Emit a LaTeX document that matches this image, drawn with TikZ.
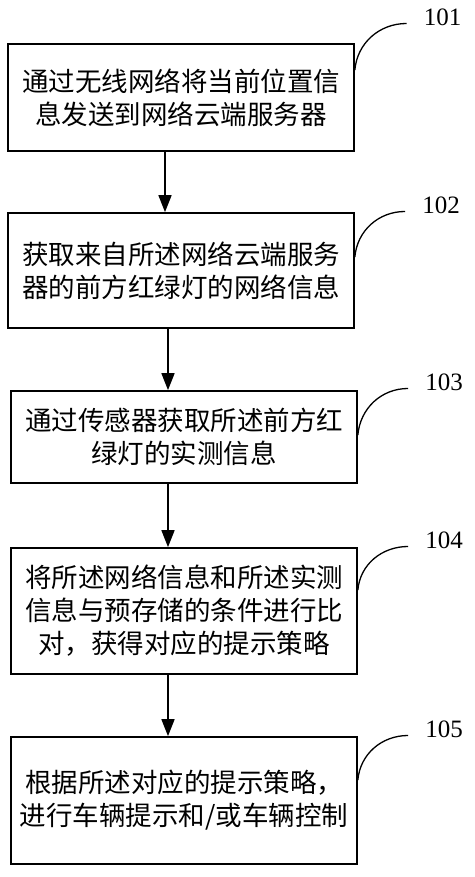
\documentclass[tikz,border=0pt]{standalone}
\usepackage{fontspec}
\newfontfamily\cjk{Noto Sans CJK SC}
\newfontfamily\numfont{Liberation Serif}
\usetikzlibrary{arrows.meta}
\begin{document}
\begin{tikzpicture}[x=1pt,y=1pt,
  stepbox/.style={draw=black,line width=1.7pt,rectangle,minimum width=346pt,inner sep=0pt,
    align=center,font=\cjk\fontsize{26.5}{33}\selectfont},
  numlabel/.style={inner sep=0pt,font=\numfont\fontsize{25}{30}\selectfont},
  arr/.style={line width=1.7pt,-{Triangle[length=17pt,width=13pt]}},
  lead/.style={line width=1.3pt}]
\useasboundingbox (0,0) rectangle (474,877);
\fill[white] (0,0) rectangle (474,877);
% boxes (y = 877 - pixel y)
\node[stepbox,minimum height=107pt] (b1) at (181,779.5) {通过无线网络将当前位置信\\息发送到网络云端服务器};
\node[stepbox,minimum height=115pt] (b2) at (181,606.5) {获取来自所述网络云端服务\\器的前方红绿灯的网络信息};
\node[stepbox,minimum height=92pt] (b3) at (184,440) {通过传感器获取所述前方红\\绿灯的实测信息};
\node[stepbox,minimum height=126pt] (b4) at (184,266) {将所述网络信息和所述实测\\信息与预存储的条件进行比\\对，获得对应的提示策略};
\node[stepbox,minimum height=127pt] (b5) at (184,76.5) {根据所述对应的提示策略，\\进行车辆提示和/或车辆控制};
% labels
\node[numlabel] (l1) at (442.5,860) {101};
\node[numlabel] (l2) at (441,672) {102};
\node[numlabel] (l3) at (444,495) {103};
\node[numlabel] (l4) at (444,337) {104};
\node[numlabel] (l5) at (444,148) {105};
% arrows
\draw[arr] ([xshift=-16pt]b1.south) -- ([xshift=-16pt]b2.north);
\draw[arr] ([xshift=-13pt]b2.south) -- ([xshift=-16pt]b3.north);
\draw[arr] ([xshift=-16pt]b3.south) -- ([xshift=-16pt]b4.north);
\draw[arr] ([xshift=-16pt]b4.south) -- ([xshift=-16pt]b5.north);
% leader curves
\draw[lead] ([yshift=27.5pt]b1.east) to[out=85,in=180] ([xshift=-17pt,yshift=-6.5pt]l1.west);
\draw[lead] ([yshift=13.5pt]b2.east) to[out=85,in=180] ([xshift=-17pt,yshift=-6.5pt]l2.west);
\draw[lead] ([yshift=2pt]b3.east) to[out=85,in=180] ([xshift=-17pt,yshift=-6.5pt]l3.west);
\draw[lead] ([yshift=21pt]b4.east) to[out=85,in=180] ([xshift=-17pt,yshift=-6.5pt]l4.west);
\draw[lead] ([yshift=20.5pt]b5.east) to[out=85,in=180] ([xshift=-17pt,yshift=-6.5pt]l5.west);
\end{tikzpicture}
\end{document}
